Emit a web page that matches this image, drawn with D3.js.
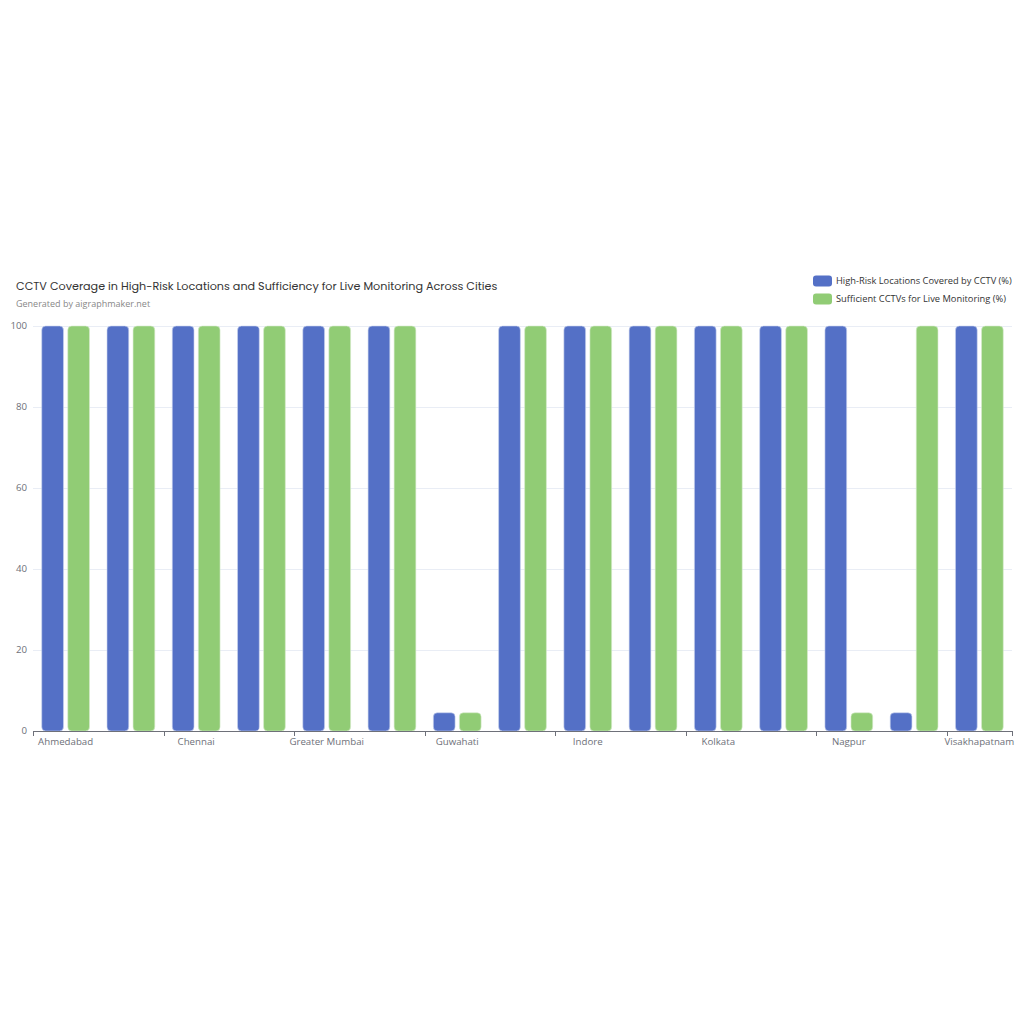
<!DOCTYPE html>
<html><head><meta charset="utf-8">
<script src="https://cdn.jsdelivr.net/npm/d3@7"></script>
<style>html,body{margin:0;padding:0;background:#fff;}svg{display:block;}</style>
</head><body>
<svg id="chart" width="1024" height="1024"></svg>
<script>
const categories = ["Ahmedabad","Bengaluru","Chennai","Delhi","Greater Mumbai","Gurugram","Guwahati","Hyderabad","Indore","Jaipur","Kolkata","Lucknow","Nagpur","Pune","Visakhapatnam"];
const seriesNames = ["High-Risk Locations Covered by CCTV (%)","Sufficient CCTVs for Live Monitoring (%)"];
const coveredValues = [100,100,100,100,100,100,4.5,100,100,100,100,100,100,4.5,100];
const sufficientValues = [100,100,100,100,100,100,4.5,100,100,100,100,100,4.5,100,100];
const yTicks = [0,20,40,60,80,100];
const colors = ["#5470c6","#91cc75"];
const titleText = "CCTV Coverage in High-Risk Locations and Sufficiency for Live Monitoring Across Cities";
const subtitleText = "Generated by aigraphmaker.net";

const svg = d3.select("#chart");
const mLeft = 33, mRight = 1012, mTop = 326, mBottom = 731;
const x = d3.scaleBand().domain(categories).range([mLeft, mRight]).paddingInner(0).paddingOuter(0);
const y = d3.scaleLinear().domain([0,100]).range([mBottom, mTop]);
const bw = x.bandwidth();
const barW = bw * 0.333, gap = bw * 0.066;
const x1 = d3.scaleOrdinal().domain([0,1]).range([-(gap/2) - barW, gap/2]);

// grid
svg.append("g").selectAll("line").data(yTicks.filter(d=>d>0)).join("line")
  .attr("x1", mLeft).attr("x2", mRight)
  .attr("y1", d=>Math.round(y(d))+0.5).attr("y2", d=>Math.round(y(d))+0.5)
  .attr("stroke", "#e9edf5").attr("stroke-width", 1);

// y labels
svg.append("g").selectAll("text").data(yTicks).join("text")
  .attr("x", mLeft - 6).attr("y", d=>y(d)).attr("dy","0.35em")
  .attr("text-anchor","end").attr("font-family","'Open Sans', sans-serif").attr("font-size",9.7)
  .attr("fill","#6e7079").text(d=>d);

function roundedRect(x0, y0, w, h, r){
  r = Math.min(r, w/2, h/2);
  return `M${x0+r},${y0}H${x0+w-r}Q${x0+w},${y0} ${x0+w},${y0+r}V${y0+h-r}Q${x0+w},${y0+h} ${x0+w-r},${y0+h}H${x0+r}Q${x0},${y0+h} ${x0},${y0+h-r}V${y0+r}Q${x0},${y0} ${x0+r},${y0}Z`;
}

const series = [coveredValues, sufficientValues];
series.forEach((vals, si) => {
  svg.append("g").selectAll("path").data(vals).join("path")
    .attr("d", (v,i) => {
      const cx = x(categories[i]) + bw/2 + x1(si);
      return roundedRect(cx, y(v), barW, y(0) - y(v), 4);
    })
    .attr("fill", colors[si]).attr("stroke", si===0 ? "#c9d3ef" : "#d6ebcc").attr("stroke-width", 0.6);
});

// x axis
const xa = svg.append("g");
xa.append("line").attr("x1", mLeft).attr("x2", mRight).attr("y1", mBottom+0.5).attr("y2", mBottom+0.5)
  .attr("stroke","#6e7079").attr("stroke-width",1);
const tickIdx = d3.range(0, categories.length, 2);
const tickPos = tickIdx.map(i => x(categories[i])).concat([mRight]);
xa.selectAll("line.tick").data(tickPos).join("line").attr("class","tick")
  .attr("x1", d=>Math.round(d)+0.5).attr("x2", d=>Math.round(d)+0.5)
  .attr("y1", mBottom).attr("y2", mBottom+5).attr("stroke","#6e7079");
xa.selectAll("text").data(tickIdx).join("text")
  .attr("x", i => x(categories[i]) + bw/2).attr("y", mBottom + 14)
  .attr("text-anchor","middle").attr("font-family","'Open Sans', sans-serif").attr("font-size",9.7)
  .attr("fill","#6e7079").text(i=>categories[i]);

// title
svg.append("text").attr("x",16).attr("y",290).attr("font-family","Poppins, Lato, 'Open Sans', sans-serif")
  .attr("font-size",11.2).attr("fill","#333").text(titleText);
svg.append("text").attr("x",16).attr("y",307).attr("font-family","'Open Sans', sans-serif")
  .attr("font-size",9).attr("fill","#888").text(subtitleText);

// legend
const lg = svg.append("g");
seriesNames.forEach((n, i) => {
  const yy = 281 + i*18;
  lg.append("rect").attr("x",813).attr("y",yy-5.5).attr("width",19).attr("height",11).attr("rx",3)
    .attr("fill",colors[i]);
  lg.append("text").attr("x",836).attr("y",yy).attr("dy","0.35em").attr("font-family","'Open Sans', sans-serif")
    .attr("font-size",9.3).attr("fill","#333").text(n);
});
</script>
</body></html>
